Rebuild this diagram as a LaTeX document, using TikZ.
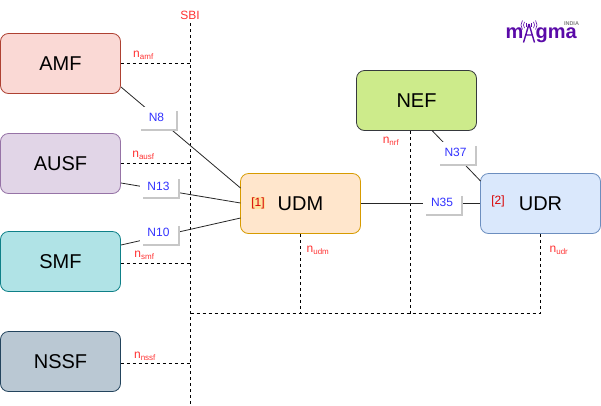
\documentclass[tikz,border=0pt]{standalone}
\usepackage{fontspec}
\setmainfont{Liberation Sans}
\usepackage{xcolor}
\usetikzlibrary{positioning}
\definecolor{sbired}{HTML}{FF3333}
\definecolor{ifblue}{HTML}{3333FF}
\definecolor{logopurple}{HTML}{5A0AA8}
\tikzset{
  nf/.style={draw, rounded corners=8pt, minimum width=120pt, minimum height=60pt, inner sep=0pt, font=\fontsize{20}{24}\selectfont, line width=0.8pt},
  sbiline/.style={dash pattern=on 3pt off 3pt, line width=0.8pt},
  refline/.style={black!85, line width=0.8pt},
  iface/.style={font=\fontsize{12}{14}\selectfont, text=ifblue, fill=white, minimum width=38pt, minimum height=22pt, inner sep=0pt},
  ifshadow/.style={draw=black!22, line width=2pt},
  nlabel/.style={font=\fontsize{12}{14}\selectfont, text=sbired, inner sep=0pt},
  cite/.style={font=\fontsize{12}{14}\selectfont, text=red!85!black, inner sep=0pt}
}
\begin{document}
\begin{tikzpicture}[x=1pt,y=-1pt]
  \useasboundingbox (0,0) rectangle (601,405);
  % ---- network functions ----
  \node[nf, draw={rgb,255:red,174;green,65;blue,50}, fill={rgb,255:red,250;green,217;blue,213}] (amf) at (60.5,63.5) {AMF};
  \node[nf, draw={rgb,255:red,150;green,115;blue,166}, fill={rgb,255:red,225;green,213;blue,231}] (ausf) at (60.5,163.5) {AUSF};
  \node[nf, draw={rgb,255:red,14;green,128;blue,136}, fill={rgb,255:red,176;green,227;blue,230}] (smf) at (60.5,261.5) {SMF};
  \node[nf, draw={rgb,255:red,35;green,68;blue,93}, fill={rgb,255:red,186;green,200;blue,211}] (nssf) at (60.5,361.5) {NSSF};
  \node[nf, draw={rgb,255:red,54;green,57;blue,61}, fill={rgb,255:red,205;green,235;blue,139}] (nef) at (416.5,100.5) {NEF};
  \node[nf, draw={rgb,255:red,215;green,155;blue,0}, fill={rgb,255:red,255;green,230;blue,204}] (udm) at (300.5,203.5) {};
  \node[nf, draw={rgb,255:red,108;green,142;blue,191}, fill={rgb,255:red,218;green,232;blue,252}] (udr) at (540.5,203.5) {};
  \node[font=\fontsize{20}{24}\selectfont] (udmname) at (300.5,204) {UDM};
  \node[font=\fontsize{20}{24}\selectfont] (udrname) at (540.5,204) {UDR};
  \node[cite, fill=yellow!45!orange!35] (cite1) at (258,203) {[1]};
  \node[cite] (cite2) at (498,201) {[2]};

  % ---- SBI bus ----
  \node[font=\fontsize{12}{14}\selectfont, text=sbired, inner sep=0pt] (sbi) at (190,15) {SBI};
  \coordinate (bustop) at (190.5,23);
  \coordinate (busbot) at (190.5,404);
  \coordinate (busc) at (190.5,313.5);
  \coordinate (nefc) at (410.5,313.5);
  \coordinate (udmc) at (300.5,313.5);
  \coordinate (udrc) at (540.5,313.5);
  \draw[sbiline] (bustop) -- (busbot);
  \draw[sbiline] (busc) -- (udrc);
  \foreach \nfname/\ypos in {amf/63.5,ausf/163.5,smf/263.5,nssf/363.5} {
    \coordinate (\nfname bus) at (190.5,\ypos);
    \draw[sbiline] (\nfname.east |- \nfname bus) -- (\nfname bus);
  }
  \draw[sbiline] (udm.south -| udmc) -- (udmc);
  \draw[sbiline] (nef.south -| nefc) -- (nefc);
  \draw[sbiline] (udr.south -| udrc) -- (udrc);

  % ---- reference points ----
  \coordinate (amfout) at (121,87);
  \coordinate (udmin1) at (240.5,188);
  \coordinate (ausfout) at (121,183);
  \coordinate (udmin2) at (240.5,203);
  \coordinate (smfout) at (121,245);
  \coordinate (udmin3) at (240.5,218);
  \coordinate (nefout) at (432,130.5);
  \coordinate (udrin) at (480.5,181);
  \draw[refline] (amfout) -- (udmin1);
  \draw[refline] (ausfout) -- (udmin2);
  \draw[refline] (smfout) -- (udmin3);
  \draw[refline] (nefout) -- (udrin);
  \draw[refline] (udm.east) -- (udr.west);

  % ---- interface labels ----
  \foreach \nme/\txt/\xpos/\ypos in {n8/N8/156.5/117.5,n13/N13/158.5/186,n10/N10/158.5/232.5,n37/N37/455.5/152.5,n35/N35/442/202.5} {
    \node[iface] (\nme) at (\xpos,\ypos) {\txt};
    \draw[ifshadow] (\nme.north east) ++(1,4.5) -- ++(0,19) -- ++(-36,0);
  }

  % ---- n labels ----
  \node[nlabel] (namf) at (143.5,55) {n\textsubscript{amf}};
  \node[nlabel] (nausf) at (143.5,155) {n\textsubscript{ausf}};
  \node[nlabel] (nsmf) at (144.5,255) {n\textsubscript{smf}};
  \node[nlabel] (nssfl) at (145,356) {n\textsubscript{nssf}};
  \node[nlabel] (nudm) at (318,250) {n\textsubscript{udm}};
  \node[nlabel] (nudr) at (559,250) {n\textsubscript{udr}};
  \node[nlabel] (nnrf) at (391,141) {n\textsubscript{nrf}};

  % ---- logo ----
  \node[font=\bfseries\fontsize{20}{22}\selectfont, text=logopurple, inner sep=0pt, anchor=base east] (logom) at (523.5,38.5) {m};
  \node[font=\bfseries\fontsize{20}{22}\selectfont, text=logopurple, inner sep=0pt, anchor=base west] (logogma) at (535.5,38.5) {gma};
  \node[font=\bfseries\fontsize{5.5}{6}\selectfont, text=black!50, inner sep=0pt] (logoin) at (571.5,24) {INDIA};
  \draw[logopurple, line width=1.4pt] (529,24) -- (523.5,42.5) (529,24) -- (534.5,42.5) (526,35) -- (532,35);
  \foreach \r in {3,5.5,8} {
    \draw[logopurple, line width=0.6pt] (529,25) ++(145:\r) arc (145:215:\r);
    \draw[logopurple, line width=0.6pt] (529,25) ++(35:\r) arc (35:-35:\r);
  }
\end{tikzpicture}
\end{document}
